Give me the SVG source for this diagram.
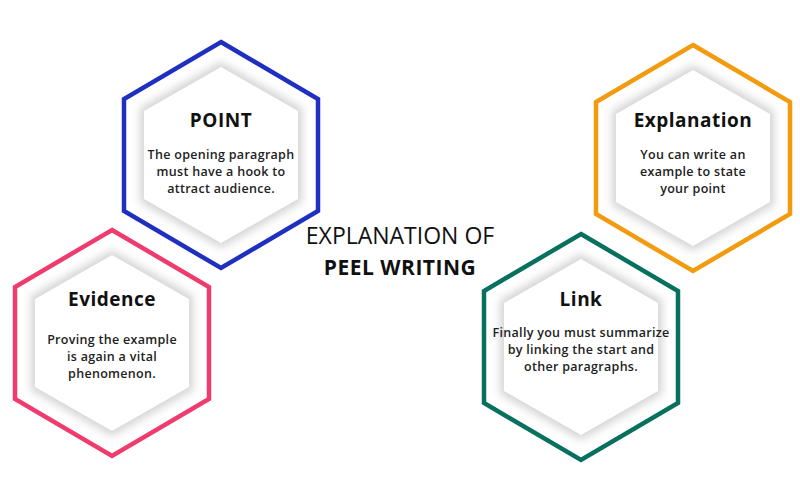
<svg xmlns="http://www.w3.org/2000/svg" width="800" height="500" viewBox="0 0 800 500">
<defs>
<style>
.o{fill:#fff;stroke-width:4.5;stroke-linejoin:miter}
.g{fill:#d4d4d4;filter:url(#b)}
.i{fill:#fff}
.t{font-family:"Open Sans","Noto Sans",sans-serif;font-weight:700;font-size:19px;fill:#111;text-anchor:middle;letter-spacing:0.5px}
.d{font-family:"Open Sans","Noto Sans",sans-serif;font-weight:600;font-size:12.5px;fill:#222;text-anchor:middle;letter-spacing:0.3px}
</style>
<filter id="b" x="-20%" y="-20%" width="140%" height="140%"><feGaussianBlur stdDeviation="4"/></filter>
<polygon id="ho" points="0,-113 97,-56 97,56 0,113 -97,56 -97,-56"/>
<polygon id="hg" points="0,-93 81,-47 81,47 0,93 -81,47 -81,-47"/>
<polygon id="hi" points="0,-88 77,-44 77,44 0,88 -77,44 -77,-44"/>
</defs>
<rect width="800" height="500" fill="#fff"/>
<g id="point" transform="translate(221,155)">
<use href="#ho" class="o" stroke="#1f2fc0"/><use href="#hg" class="g"/><use href="#hi" class="i"/>
<text class="t" y="-28">POINT</text>
<text class="d" y="4">The opening paragraph</text>
<text class="d" y="21">must have a hook to</text>
<text class="d" y="38">attract audience.</text>
</g>
<g id="explanation" transform="translate(693,158)">
<use href="#ho" class="o" stroke="#f29b0f"/><use href="#hg" class="g"/><use href="#hi" class="i"/>
<text class="t" y="-31">Explanation</text>
<text class="d" y="1">You can write an</text>
<text class="d" y="18">example to state</text>
<text class="d" y="35">your point</text>
</g>
<g id="evidence" transform="translate(112,343)">
<use href="#ho" class="o" stroke="#ee3c6e"/><use href="#hg" class="g"/><use href="#hi" class="i"/>
<text class="t" y="-37">Evidence</text>
<text class="d" y="1">Proving the example</text>
<text class="d" y="18">is again a vital</text>
<text class="d" y="35">phenomenon.</text>
</g>
<g id="link" transform="translate(581,347)">
<use href="#ho" class="o" stroke="#08705f"/><use href="#hg" class="g"/><use href="#hi" class="i"/>
<text class="t" y="-41">Link</text>
<text class="d" y="-10">Finally you must summarize</text>
<text class="d" y="7">by linking the start and</text>
<text class="d" y="24">other paragraphs.</text>
</g>
<g id="title" font-family="'Open Sans','Noto Sans',sans-serif" text-anchor="middle" fill="#111">
<text x="400" y="244" font-size="23" font-weight="400">EXPLANATION OF</text>
<text x="400" y="275" font-size="21" font-weight="700" letter-spacing="0.5">PEEL WRITING</text>
</g>
<g id="connectors"/>
</svg>
